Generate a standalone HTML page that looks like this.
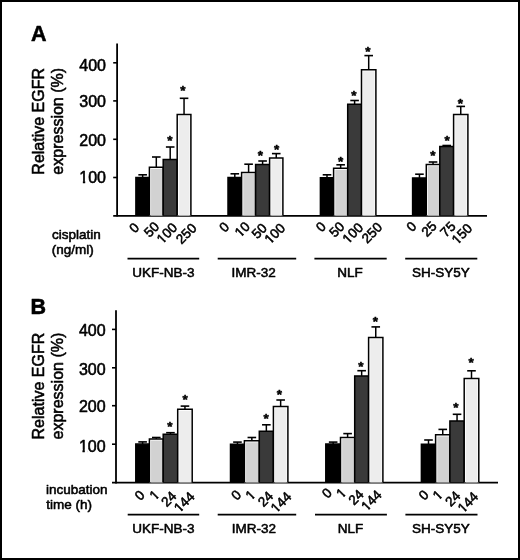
<!DOCTYPE html>
<html><head><meta charset="utf-8"><title>EGFR expression</title>
<style>
html,body{margin:0;padding:0;background:#fff;}
body{width:520px;height:560px;overflow:hidden;}
svg{display:block;}
text{font-family:"Liberation Sans", Arial, Helvetica, sans-serif;fill:#000;stroke:#000;stroke-width:0.55px;stroke-linejoin:round;}
</style></head>
<body>
<svg width="520" height="560" viewBox="0 0 520 560">
<defs><clipPath id="c1_100_16"><rect x="-200" y="-200" width="400" height="197.805"/><rect x="-23.122" y="-200" width="2.314" height="400"/><rect x="-17.797" y="-200" width="8.898" height="400"/><rect x="-8.898" y="-200" width="8.898" height="400"/></clipPath><clipPath id="c1_100_13p5"><rect x="-200" y="-200" width="400" height="197.991"/><rect x="-19.579" y="-200" width="2.093" height="400"/><rect x="-15.016" y="-200" width="7.508" height="400"/><rect x="-7.508" y="-200" width="7.508" height="400"/></clipPath><clipPath id="c1_10_13p5"><rect x="-200" y="-200" width="400" height="197.991"/><rect x="-12.071" y="-200" width="2.093" height="400"/><rect x="-7.508" y="-200" width="7.508" height="400"/></clipPath><clipPath id="c1_150_13p5"><rect x="-200" y="-200" width="400" height="197.991"/><rect x="-19.579" y="-200" width="2.093" height="400"/><rect x="-15.016" y="-200" width="7.508" height="400"/><rect x="-7.508" y="-200" width="7.508" height="400"/></clipPath><clipPath id="c1_1_13p5"><rect x="-200" y="-200" width="400" height="197.991"/><rect x="-4.563" y="-200" width="2.093" height="400"/></clipPath><clipPath id="c1_144_13p5"><rect x="-200" y="-200" width="400" height="197.991"/><rect x="-19.579" y="-200" width="2.093" height="400"/><rect x="-15.016" y="-200" width="7.508" height="400"/><rect x="-7.508" y="-200" width="7.508" height="400"/></clipPath></defs>
<rect x="1" y="1" width="518" height="558" fill="#fff" stroke="#000" stroke-width="2"/>
<line x1="117.1" y1="43.5" x2="117.1" y2="216.55" stroke="#000" stroke-width="1.8"/>
<line x1="113.2" y1="62.8" x2="117.1" y2="62.8" stroke="#000" stroke-width="1.6"/>
<line x1="113.2" y1="100.9" x2="117.1" y2="100.9" stroke="#000" stroke-width="1.6"/>
<line x1="113.2" y1="139.3" x2="117.1" y2="139.3" stroke="#000" stroke-width="1.6"/>
<line x1="113.2" y1="177.5" x2="117.1" y2="177.5" stroke="#000" stroke-width="1.6"/>
<line x1="113.2" y1="215.8" x2="487" y2="215.8" stroke="#000" stroke-width="1.8"/>
<text transform="translate(106,71.2)" text-anchor="end" font-size="16">400</text>
<text transform="translate(106,106.6)" text-anchor="end" font-size="16">300</text>
<text transform="translate(106,145.8)" text-anchor="end" font-size="16">200</text>
<text transform="translate(106,183.1)" text-anchor="end" font-size="16" clip-path="url(#c1_100_16)">100</text>
<text x="31" y="41" font-size="21.5" font-weight="bold">A</text>
<text transform="translate(44.3,121.3) rotate(-90)" text-anchor="middle" font-size="16">Relative EGFR</text>
<text transform="translate(63.2,121.3) rotate(-90)" text-anchor="middle" font-size="16">expression (%)</text>
<rect x="135.90" y="177.60" width="13.50" height="37.85" fill="#000000"/>
<path d="M135.90,215.45V177.60H149.40V215.45" fill="none" stroke="#000" stroke-width="1.5"/>
<line x1="142.65" y1="177.60" x2="142.65" y2="174.80" stroke="#000" stroke-width="1.5"/>
<line x1="138.35" y1="174.80" x2="146.95" y2="174.80" stroke="#000" stroke-width="1.6"/>
<rect x="149.40" y="167.20" width="13.80" height="48.25" fill="#fff"/>
<rect x="151.05" y="168.85" width="11.40" height="46.60" fill="#d2d2d2"/>
<path d="M149.40,215.45V167.20H163.20V215.45" fill="none" stroke="#000" stroke-width="1.5"/>
<line x1="156.30" y1="167.20" x2="156.30" y2="157.00" stroke="#000" stroke-width="1.5"/>
<line x1="152.00" y1="157.00" x2="160.60" y2="157.00" stroke="#000" stroke-width="1.6"/>
<rect x="163.20" y="159.50" width="14.00" height="55.95" fill="#3a3a3a"/>
<path d="M163.20,215.45V159.50H177.20V215.45" fill="none" stroke="#000" stroke-width="1.5"/>
<line x1="170.20" y1="159.50" x2="170.20" y2="147.00" stroke="#000" stroke-width="1.5"/>
<line x1="165.90" y1="147.00" x2="174.50" y2="147.00" stroke="#000" stroke-width="1.6"/>
<rect x="177.20" y="114.40" width="13.70" height="101.05" fill="#fff"/>
<rect x="178.85" y="116.05" width="10.70" height="99.40" fill="#ededed"/>
<path d="M177.20,215.45V114.40H190.90V215.45" fill="none" stroke="#000" stroke-width="1.5"/>
<line x1="184.05" y1="114.40" x2="184.05" y2="98.30" stroke="#000" stroke-width="1.5"/>
<line x1="179.75" y1="98.30" x2="188.35" y2="98.30" stroke="#000" stroke-width="1.6"/>
<text x="169.90" y="145.15" text-anchor="middle" font-size="13.5" font-weight="bold" style="stroke-width:0.5px">*</text>
<text x="182.80" y="95.45" text-anchor="middle" font-size="13.5" font-weight="bold" style="stroke-width:0.5px">*</text>
<rect x="228.00" y="177.60" width="13.60" height="37.85" fill="#000000"/>
<path d="M228.00,215.45V177.60H241.60V215.45" fill="none" stroke="#000" stroke-width="1.5"/>
<line x1="234.80" y1="177.60" x2="234.80" y2="173.80" stroke="#000" stroke-width="1.5"/>
<line x1="230.50" y1="173.80" x2="239.10" y2="173.80" stroke="#000" stroke-width="1.6"/>
<rect x="241.60" y="172.40" width="14.00" height="43.05" fill="#fff"/>
<rect x="243.25" y="174.05" width="11.60" height="41.40" fill="#d2d2d2"/>
<path d="M241.60,215.45V172.40H255.60V215.45" fill="none" stroke="#000" stroke-width="1.5"/>
<line x1="248.60" y1="172.40" x2="248.60" y2="164.20" stroke="#000" stroke-width="1.5"/>
<line x1="244.30" y1="164.20" x2="252.90" y2="164.20" stroke="#000" stroke-width="1.6"/>
<rect x="255.60" y="164.40" width="14.00" height="51.05" fill="#3a3a3a"/>
<path d="M255.60,215.45V164.40H269.60V215.45" fill="none" stroke="#000" stroke-width="1.5"/>
<line x1="262.60" y1="164.40" x2="262.60" y2="161.00" stroke="#000" stroke-width="1.5"/>
<line x1="258.30" y1="161.00" x2="266.90" y2="161.00" stroke="#000" stroke-width="1.6"/>
<rect x="269.60" y="158.00" width="13.30" height="57.45" fill="#fff"/>
<rect x="271.25" y="159.65" width="10.30" height="55.80" fill="#ededed"/>
<path d="M269.60,215.45V158.00H282.90V215.45" fill="none" stroke="#000" stroke-width="1.5"/>
<line x1="276.25" y1="158.00" x2="276.25" y2="153.60" stroke="#000" stroke-width="1.5"/>
<line x1="271.95" y1="153.60" x2="280.55" y2="153.60" stroke="#000" stroke-width="1.6"/>
<text x="260.50" y="159.75" text-anchor="middle" font-size="13.5" font-weight="bold" style="stroke-width:0.5px">*</text>
<text x="276.60" y="153.55" text-anchor="middle" font-size="13.5" font-weight="bold" style="stroke-width:0.5px">*</text>
<rect x="320.40" y="177.80" width="13.20" height="37.65" fill="#000000"/>
<path d="M320.40,215.45V177.80H333.60V215.45" fill="none" stroke="#000" stroke-width="1.5"/>
<line x1="327.00" y1="177.80" x2="327.00" y2="174.80" stroke="#000" stroke-width="1.5"/>
<line x1="322.70" y1="174.80" x2="331.30" y2="174.80" stroke="#000" stroke-width="1.6"/>
<rect x="333.60" y="168.20" width="14.10" height="47.25" fill="#fff"/>
<rect x="335.25" y="169.85" width="11.70" height="45.60" fill="#d2d2d2"/>
<path d="M333.60,215.45V168.20H347.70V215.45" fill="none" stroke="#000" stroke-width="1.5"/>
<line x1="340.65" y1="168.20" x2="340.65" y2="164.80" stroke="#000" stroke-width="1.5"/>
<line x1="336.35" y1="164.80" x2="344.95" y2="164.80" stroke="#000" stroke-width="1.6"/>
<rect x="347.70" y="104.30" width="13.80" height="111.15" fill="#3a3a3a"/>
<path d="M347.70,215.45V104.30H361.50V215.45" fill="none" stroke="#000" stroke-width="1.5"/>
<line x1="354.60" y1="104.30" x2="354.60" y2="100.50" stroke="#000" stroke-width="1.5"/>
<line x1="350.30" y1="100.50" x2="358.90" y2="100.50" stroke="#000" stroke-width="1.6"/>
<rect x="361.50" y="69.70" width="14.40" height="145.75" fill="#fff"/>
<rect x="363.15" y="71.35" width="11.40" height="144.10" fill="#ededed"/>
<path d="M361.50,215.45V69.70H375.90V215.45" fill="none" stroke="#000" stroke-width="1.5"/>
<line x1="368.70" y1="69.70" x2="368.70" y2="55.60" stroke="#000" stroke-width="1.5"/>
<line x1="364.40" y1="55.60" x2="373.00" y2="55.60" stroke="#000" stroke-width="1.6"/>
<text x="340.70" y="166.45" text-anchor="middle" font-size="13.5" font-weight="bold" style="stroke-width:0.5px">*</text>
<text x="353.80" y="99.65" text-anchor="middle" font-size="13.5" font-weight="bold" style="stroke-width:0.5px">*</text>
<text x="367.85" y="56.15" text-anchor="middle" font-size="13.5" font-weight="bold" style="stroke-width:0.5px">*</text>
<rect x="412.60" y="177.90" width="13.70" height="37.55" fill="#000000"/>
<path d="M412.60,215.45V177.90H426.30V215.45" fill="none" stroke="#000" stroke-width="1.5"/>
<line x1="419.45" y1="177.90" x2="419.45" y2="174.20" stroke="#000" stroke-width="1.5"/>
<line x1="415.15" y1="174.20" x2="423.75" y2="174.20" stroke="#000" stroke-width="1.6"/>
<rect x="426.30" y="164.50" width="13.50" height="50.95" fill="#fff"/>
<rect x="427.95" y="166.15" width="11.10" height="49.30" fill="#d2d2d2"/>
<path d="M426.30,215.45V164.50H439.80V215.45" fill="none" stroke="#000" stroke-width="1.5"/>
<line x1="433.05" y1="164.50" x2="433.05" y2="162.00" stroke="#000" stroke-width="1.5"/>
<line x1="428.75" y1="162.00" x2="437.35" y2="162.00" stroke="#000" stroke-width="1.6"/>
<rect x="439.80" y="146.60" width="13.80" height="68.85" fill="#3a3a3a"/>
<path d="M439.80,215.45V146.60H453.60V215.45" fill="none" stroke="#000" stroke-width="1.5"/>
<line x1="446.70" y1="146.60" x2="446.70" y2="145.50" stroke="#000" stroke-width="1.5"/>
<line x1="442.40" y1="145.50" x2="451.00" y2="145.50" stroke="#000" stroke-width="1.6"/>
<rect x="453.60" y="114.60" width="14.30" height="100.85" fill="#fff"/>
<rect x="455.25" y="116.25" width="11.30" height="99.20" fill="#ededed"/>
<path d="M453.60,215.45V114.60H467.90V215.45" fill="none" stroke="#000" stroke-width="1.5"/>
<line x1="460.75" y1="114.60" x2="460.75" y2="106.40" stroke="#000" stroke-width="1.5"/>
<line x1="456.45" y1="106.40" x2="465.05" y2="106.40" stroke="#000" stroke-width="1.6"/>
<text x="433.00" y="159.85" text-anchor="middle" font-size="13.5" font-weight="bold" style="stroke-width:0.5px">*</text>
<text x="447.20" y="145.35" text-anchor="middle" font-size="13.5" font-weight="bold" style="stroke-width:0.5px">*</text>
<text x="460.30" y="108.25" text-anchor="middle" font-size="13.5" font-weight="bold" style="stroke-width:0.5px">*</text>
<text transform="translate(140.18,228.45) rotate(-45)" text-anchor="end" font-size="13.5">0</text>
<text transform="translate(160.18,227.35) rotate(-45)" text-anchor="end" font-size="13.5">50</text>
<text transform="translate(178.18,228.45) rotate(-45)" text-anchor="end" font-size="13.5" clip-path="url(#c1_100_13p5)">100</text>
<text transform="translate(197.47,228.85) rotate(-45)" text-anchor="end" font-size="13.5">250</text>
<text transform="translate(230.18,227.75) rotate(-45)" text-anchor="end" font-size="13.5">0</text>
<text transform="translate(250.88,227.35) rotate(-45)" text-anchor="end" font-size="13.5" clip-path="url(#c1_10_13p5)">10</text>
<text transform="translate(267.88,228.85) rotate(-45)" text-anchor="end" font-size="13.5">50</text>
<text transform="translate(285.98,228.85) rotate(-45)" text-anchor="end" font-size="13.5" clip-path="url(#c1_100_13p5)">100</text>
<text transform="translate(326.88,227.35) rotate(-45)" text-anchor="end" font-size="13.5">0</text>
<text transform="translate(345.27,227.35) rotate(-45)" text-anchor="end" font-size="13.5">50</text>
<text transform="translate(363.98,228.45) rotate(-45)" text-anchor="end" font-size="13.5" clip-path="url(#c1_100_13p5)">100</text>
<text transform="translate(383.18,228.05) rotate(-45)" text-anchor="end" font-size="13.5">250</text>
<text transform="translate(417.27,227.15) rotate(-45)" text-anchor="end" font-size="13.5">0</text>
<text transform="translate(437.55,226.90) rotate(-45)" text-anchor="end" font-size="13.5">25</text>
<text transform="translate(456.45,227.30) rotate(-45)" text-anchor="end" font-size="13.5">75</text>
<text transform="translate(473.18,229.25) rotate(-45)" text-anchor="end" font-size="13.5" clip-path="url(#c1_150_13p5)">150</text>
<text x="52" y="238.6" font-size="13.5">cisplatin</text>
<text x="51.8" y="253.8" font-size="13.5">(ng/ml)</text>
<line x1="127.5" y1="258.6" x2="199.2" y2="258.6" stroke="#000" stroke-width="1.6"/>
<text x="163.5" y="277.4" text-anchor="middle" font-size="13.5">UKF-NB-3</text>
<line x1="217.7" y1="258.6" x2="296.2" y2="258.6" stroke="#000" stroke-width="1.6"/>
<text x="253.6" y="277.4" text-anchor="middle" font-size="13.5">IMR-32</text>
<line x1="314.4" y1="258.6" x2="386.7" y2="258.6" stroke="#000" stroke-width="1.6"/>
<text x="350" y="277.4" text-anchor="middle" font-size="13.5">NLF</text>
<line x1="405.2" y1="258.6" x2="477.3" y2="258.6" stroke="#000" stroke-width="1.6"/>
<text x="440.8" y="277.4" text-anchor="middle" font-size="13.5">SH-SY5Y</text>
<line x1="116.0" y1="310.2" x2="116.0" y2="483.45" stroke="#000" stroke-width="1.8"/>
<line x1="112.0" y1="329.4" x2="116.0" y2="329.4" stroke="#000" stroke-width="1.6"/>
<line x1="112.0" y1="367.8" x2="116.0" y2="367.8" stroke="#000" stroke-width="1.6"/>
<line x1="112.0" y1="405.7" x2="116.0" y2="405.7" stroke="#000" stroke-width="1.6"/>
<line x1="112.0" y1="444.2" x2="116.0" y2="444.2" stroke="#000" stroke-width="1.6"/>
<line x1="112.0" y1="482.7" x2="498" y2="482.7" stroke="#000" stroke-width="1.8"/>
<text transform="translate(105.6,336.0)" text-anchor="end" font-size="16">400</text>
<text transform="translate(105.6,375.2)" text-anchor="end" font-size="16">300</text>
<text transform="translate(105.6,412.2)" text-anchor="end" font-size="16">200</text>
<text transform="translate(105.6,451.7)" text-anchor="end" font-size="16" clip-path="url(#c1_100_16)">100</text>
<text x="30.5" y="313.7" font-size="21.5" font-weight="bold">B</text>
<text transform="translate(44.3,386.1) rotate(-90)" text-anchor="middle" font-size="16">Relative EGFR</text>
<text transform="translate(63.2,386.1) rotate(-90)" text-anchor="middle" font-size="16">expression (%)</text>
<rect x="135.80" y="444.10" width="13.60" height="38.25" fill="#000000"/>
<path d="M135.80,482.35V444.10H149.40V482.35" fill="none" stroke="#000" stroke-width="1.5"/>
<line x1="142.60" y1="444.10" x2="142.60" y2="441.90" stroke="#000" stroke-width="1.5"/>
<line x1="138.30" y1="441.90" x2="146.90" y2="441.90" stroke="#000" stroke-width="1.6"/>
<rect x="149.40" y="438.90" width="13.80" height="43.45" fill="#fff"/>
<rect x="151.05" y="440.55" width="11.40" height="41.80" fill="#d2d2d2"/>
<path d="M149.40,482.35V438.90H163.20V482.35" fill="none" stroke="#000" stroke-width="1.5"/>
<line x1="156.30" y1="438.90" x2="156.30" y2="437.50" stroke="#000" stroke-width="1.5"/>
<line x1="152.00" y1="437.50" x2="160.60" y2="437.50" stroke="#000" stroke-width="1.6"/>
<rect x="163.20" y="434.20" width="14.50" height="48.15" fill="#3a3a3a"/>
<path d="M163.20,482.35V434.20H177.70V482.35" fill="none" stroke="#000" stroke-width="1.5"/>
<line x1="170.45" y1="434.20" x2="170.45" y2="432.70" stroke="#000" stroke-width="1.5"/>
<line x1="166.15" y1="432.70" x2="174.75" y2="432.70" stroke="#000" stroke-width="1.6"/>
<rect x="177.70" y="409.20" width="14.50" height="73.15" fill="#fff"/>
<rect x="179.35" y="410.85" width="11.50" height="71.50" fill="#ededed"/>
<path d="M177.70,482.35V409.20H192.20V482.35" fill="none" stroke="#000" stroke-width="1.5"/>
<line x1="184.95" y1="409.20" x2="184.95" y2="406.10" stroke="#000" stroke-width="1.5"/>
<line x1="180.65" y1="406.10" x2="189.25" y2="406.10" stroke="#000" stroke-width="1.6"/>
<text x="170.00" y="431.05" text-anchor="middle" font-size="13.5" font-weight="bold" style="stroke-width:0.5px">*</text>
<text x="185.10" y="403.65" text-anchor="middle" font-size="13.5" font-weight="bold" style="stroke-width:0.5px">*</text>
<rect x="230.50" y="444.20" width="13.90" height="38.15" fill="#000000"/>
<path d="M230.50,482.35V444.20H244.40V482.35" fill="none" stroke="#000" stroke-width="1.5"/>
<line x1="237.45" y1="444.20" x2="237.45" y2="442.10" stroke="#000" stroke-width="1.5"/>
<line x1="233.15" y1="442.10" x2="241.75" y2="442.10" stroke="#000" stroke-width="1.6"/>
<rect x="244.40" y="440.70" width="14.90" height="41.65" fill="#fff"/>
<rect x="246.05" y="442.35" width="12.50" height="40.00" fill="#d2d2d2"/>
<path d="M244.40,482.35V440.70H259.30V482.35" fill="none" stroke="#000" stroke-width="1.5"/>
<line x1="251.85" y1="440.70" x2="251.85" y2="437.50" stroke="#000" stroke-width="1.5"/>
<line x1="247.55" y1="437.50" x2="256.15" y2="437.50" stroke="#000" stroke-width="1.6"/>
<rect x="259.30" y="431.20" width="14.10" height="51.15" fill="#3a3a3a"/>
<path d="M259.30,482.35V431.20H273.40V482.35" fill="none" stroke="#000" stroke-width="1.5"/>
<line x1="266.35" y1="431.20" x2="266.35" y2="424.80" stroke="#000" stroke-width="1.5"/>
<line x1="262.05" y1="424.80" x2="270.65" y2="424.80" stroke="#000" stroke-width="1.6"/>
<rect x="273.40" y="406.60" width="14.50" height="75.75" fill="#fff"/>
<rect x="275.05" y="408.25" width="11.50" height="74.10" fill="#ededed"/>
<path d="M273.40,482.35V406.60H287.90V482.35" fill="none" stroke="#000" stroke-width="1.5"/>
<line x1="280.65" y1="406.60" x2="280.65" y2="400.00" stroke="#000" stroke-width="1.5"/>
<line x1="276.35" y1="400.00" x2="284.95" y2="400.00" stroke="#000" stroke-width="1.6"/>
<text x="266.20" y="423.05" text-anchor="middle" font-size="13.5" font-weight="bold" style="stroke-width:0.5px">*</text>
<text x="279.30" y="398.95" text-anchor="middle" font-size="13.5" font-weight="bold" style="stroke-width:0.5px">*</text>
<rect x="325.80" y="444.00" width="14.70" height="38.35" fill="#000000"/>
<path d="M325.80,482.35V444.00H340.50V482.35" fill="none" stroke="#000" stroke-width="1.5"/>
<line x1="333.15" y1="444.00" x2="333.15" y2="442.10" stroke="#000" stroke-width="1.5"/>
<line x1="328.85" y1="442.10" x2="337.45" y2="442.10" stroke="#000" stroke-width="1.6"/>
<rect x="340.50" y="437.40" width="14.20" height="44.95" fill="#fff"/>
<rect x="342.15" y="439.05" width="11.80" height="43.30" fill="#d2d2d2"/>
<path d="M340.50,482.35V437.40H354.70V482.35" fill="none" stroke="#000" stroke-width="1.5"/>
<line x1="347.60" y1="437.40" x2="347.60" y2="433.60" stroke="#000" stroke-width="1.5"/>
<line x1="343.30" y1="433.60" x2="351.90" y2="433.60" stroke="#000" stroke-width="1.6"/>
<rect x="354.70" y="375.90" width="13.90" height="106.45" fill="#3a3a3a"/>
<path d="M354.70,482.35V375.90H368.60V482.35" fill="none" stroke="#000" stroke-width="1.5"/>
<line x1="361.65" y1="375.90" x2="361.65" y2="370.70" stroke="#000" stroke-width="1.5"/>
<line x1="357.35" y1="370.70" x2="365.95" y2="370.70" stroke="#000" stroke-width="1.6"/>
<rect x="368.60" y="337.60" width="14.30" height="144.75" fill="#fff"/>
<rect x="370.25" y="339.25" width="11.30" height="143.10" fill="#ededed"/>
<path d="M368.60,482.35V337.60H382.90V482.35" fill="none" stroke="#000" stroke-width="1.5"/>
<line x1="375.75" y1="337.60" x2="375.75" y2="326.90" stroke="#000" stroke-width="1.5"/>
<line x1="371.45" y1="326.90" x2="380.05" y2="326.90" stroke="#000" stroke-width="1.6"/>
<text x="361.00" y="371.05" text-anchor="middle" font-size="13.5" font-weight="bold" style="stroke-width:0.5px">*</text>
<text x="375.30" y="326.45" text-anchor="middle" font-size="13.5" font-weight="bold" style="stroke-width:0.5px">*</text>
<rect x="421.40" y="444.20" width="14.20" height="38.15" fill="#000000"/>
<path d="M421.40,482.35V444.20H435.60V482.35" fill="none" stroke="#000" stroke-width="1.5"/>
<line x1="428.50" y1="444.20" x2="428.50" y2="440.00" stroke="#000" stroke-width="1.5"/>
<line x1="424.20" y1="440.00" x2="432.80" y2="440.00" stroke="#000" stroke-width="1.6"/>
<rect x="435.60" y="434.80" width="14.30" height="47.55" fill="#fff"/>
<rect x="437.25" y="436.45" width="11.90" height="45.90" fill="#d2d2d2"/>
<path d="M435.60,482.35V434.80H449.90V482.35" fill="none" stroke="#000" stroke-width="1.5"/>
<line x1="442.75" y1="434.80" x2="442.75" y2="429.40" stroke="#000" stroke-width="1.5"/>
<line x1="438.45" y1="429.40" x2="447.05" y2="429.40" stroke="#000" stroke-width="1.6"/>
<rect x="449.90" y="420.90" width="14.30" height="61.45" fill="#3a3a3a"/>
<path d="M449.90,482.35V420.90H464.20V482.35" fill="none" stroke="#000" stroke-width="1.5"/>
<line x1="457.05" y1="420.90" x2="457.05" y2="414.30" stroke="#000" stroke-width="1.5"/>
<line x1="452.75" y1="414.30" x2="461.35" y2="414.30" stroke="#000" stroke-width="1.6"/>
<rect x="464.20" y="378.50" width="14.60" height="103.85" fill="#fff"/>
<rect x="465.85" y="380.15" width="11.60" height="102.20" fill="#ededed"/>
<path d="M464.20,482.35V378.50H478.80V482.35" fill="none" stroke="#000" stroke-width="1.5"/>
<line x1="471.50" y1="378.50" x2="471.50" y2="370.80" stroke="#000" stroke-width="1.5"/>
<line x1="467.20" y1="370.80" x2="475.80" y2="370.80" stroke="#000" stroke-width="1.6"/>
<text x="455.80" y="411.55" text-anchor="middle" font-size="13.5" font-weight="bold" style="stroke-width:0.5px">*</text>
<text x="471.20" y="366.75" text-anchor="middle" font-size="13.5" font-weight="bold" style="stroke-width:0.5px">*</text>
<text transform="translate(145.68,496.05) rotate(-45)" text-anchor="end" font-size="13.5">0</text>
<text transform="translate(160.25,495.75) rotate(-45)" text-anchor="end" font-size="13.5" clip-path="url(#c1_1_13p5)">1</text>
<text transform="translate(177.38,496.82) rotate(-45)" text-anchor="end" font-size="13.5">24</text>
<text transform="translate(195.47,497.43) rotate(-45)" text-anchor="end" font-size="13.5" clip-path="url(#c1_144_13p5)">144</text>
<text transform="translate(242.07,495.65) rotate(-45)" text-anchor="end" font-size="13.5">0</text>
<text transform="translate(256.25,495.75) rotate(-45)" text-anchor="end" font-size="13.5" clip-path="url(#c1_1_13p5)">1</text>
<text transform="translate(274.18,496.82) rotate(-45)" text-anchor="end" font-size="13.5">24</text>
<text transform="translate(292.27,497.52) rotate(-45)" text-anchor="end" font-size="13.5" clip-path="url(#c1_144_13p5)">144</text>
<text transform="translate(332.88,493.65) rotate(-45)" text-anchor="end" font-size="13.5">0</text>
<text transform="translate(347.15,493.75) rotate(-45)" text-anchor="end" font-size="13.5" clip-path="url(#c1_1_13p5)">1</text>
<text transform="translate(364.57,495.12) rotate(-45)" text-anchor="end" font-size="13.5">24</text>
<text transform="translate(382.68,495.73) rotate(-45)" text-anchor="end" font-size="13.5" clip-path="url(#c1_144_13p5)">144</text>
<text transform="translate(429.68,495.65) rotate(-45)" text-anchor="end" font-size="13.5">0</text>
<text transform="translate(443.55,495.75) rotate(-45)" text-anchor="end" font-size="13.5" clip-path="url(#c1_1_13p5)">1</text>
<text transform="translate(461.38,496.62) rotate(-45)" text-anchor="end" font-size="13.5">24</text>
<text transform="translate(479.07,497.52) rotate(-45)" text-anchor="end" font-size="13.5" clip-path="url(#c1_144_13p5)">144</text>
<text x="45.9" y="493.8" font-size="13.5">incubation</text>
<text x="46.3" y="509.4" font-size="13.5">time (h)</text>
<line x1="127.7" y1="514.6" x2="199.2" y2="514.6" stroke="#000" stroke-width="1.6"/>
<text x="163.3" y="533.3" text-anchor="middle" font-size="13.5">UKF-NB-3</text>
<line x1="217.7" y1="514.6" x2="296.2" y2="514.6" stroke="#000" stroke-width="1.6"/>
<text x="253.9" y="533.3" text-anchor="middle" font-size="13.5">IMR-32</text>
<line x1="315" y1="514.6" x2="386.9" y2="514.6" stroke="#000" stroke-width="1.6"/>
<text x="350.5" y="533.3" text-anchor="middle" font-size="13.5">NLF</text>
<line x1="405.4" y1="514.6" x2="477.5" y2="514.6" stroke="#000" stroke-width="1.6"/>
<text x="440.8" y="533.3" text-anchor="middle" font-size="13.5">SH-SY5Y</text>
</svg>
</body></html>
